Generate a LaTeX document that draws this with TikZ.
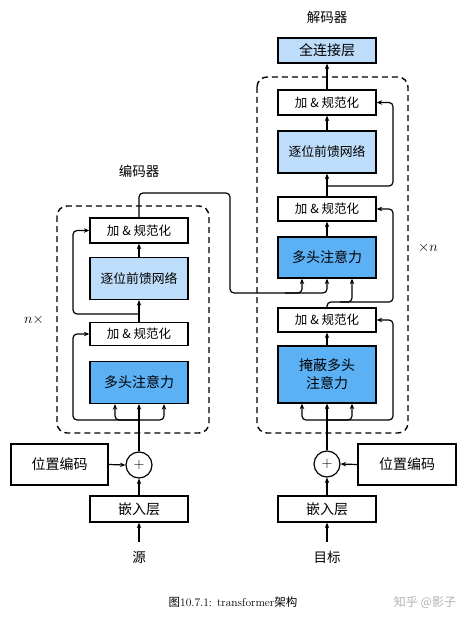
\documentclass[tikz,border=0pt]{standalone}
\usepackage{fontspec}
\newfontfamily\cjk{Noto Sans CJK SC}
\usetikzlibrary{arrows.meta,calc}
\definecolor{lblue}{RGB}{190,221,250}
\definecolor{dblue}{RGB}{92,177,245}
\tikzset{
  box/.style={draw=black, line width=1.3pt, minimum width=98pt, inner sep=0pt, align=center, font=\cjk\fontsize{14}{17}\selectfont},
  an/.style={box, fill=white, minimum height=25pt, font=\cjk\fontsize{12.5}{15}\selectfont},
  ffn/.style={box, fill=lblue, minimum height=42pt, font=\cjk\fontsize{12.8}{15}\selectfont},
  mha/.style={box, fill=dblue, minimum height=42pt},
  lbl/.style={font=\cjk\fontsize{13.5}{16}\selectfont, inner sep=0pt},
  arr/.style={line width=1.2pt, -{Stealth[length=5.5pt,width=4.5pt]}},
  rc/.style={rounded corners=4pt},
  dbox/.style={draw, line width=1.4pt, dash pattern=on 6pt off 4pt, rounded corners=10pt},
  plus/.style={circle, draw, line width=1.2pt, minimum size=26pt, inner sep=0pt, fill=white, font=\fontsize{14}{16}\selectfont}
}
\begin{document}
\begin{tikzpicture}[x=1pt,y=-1pt]
\useasboundingbox (0,0) rectangle (474,620);
% dashed frames
\draw[dbox] (57,206) rectangle (209,433);
\draw[dbox] (257,77) rectangle (408,433);
% titles
\node[lbl] (enct) at (139,171) {编码器};
\node[lbl] (dect) at (327,17) {解码器};
\node[font=\fontsize{15}{17}\selectfont] (nx) at (34,320) {$n\times$};
\node[font=\fontsize{15}{17}\selectfont] (xn) at (428,248) {$\times n$};
% encoder
\node[an] (ean2) at (139,230.5) {加 \& 规范化};
\node[ffn] (effn) at (139,278.5) {逐位前馈网络};
\node[an, minimum height=23pt] (ean1) at (139,334) {加 \& 规范化};
\node[mha] (emha) at (139,382.5) {多头注意力};
\node[plus] (ecirc) at (139,465) {$+$};
\node[box, minimum width=97pt, minimum height=41pt] (epos) at (59.5,464.5) {位置编码};
\node[box, minimum height=26pt] (eemb) at (139,509) {嵌入层};
\node[lbl] (src) at (139,557) {源};
% decoder
\node[ffn, minimum height=25pt, font=\cjk\fontsize{14}{17}\selectfont] (dfc) at (327,50.5) {全连接层};
\node[an] (dan3) at (327,102.5) {加 \& 规范化};
\node[ffn] (dffn) at (327,152) {逐位前馈网络};
\node[an, minimum height=24pt] (dan2) at (327,209) {加 \& 规范化};
\node[mha, minimum height=41pt] (dmha) at (327,257.5) {多头注意力};
\node[an, minimum height=24pt] (dan1) at (327,320) {加 \& 规范化};
\node[mha, minimum height=57pt] (dmmha) at (327,374.5) {掩蔽多头\\[1pt]注意力};
\node[plus] (dcirc) at (327,464) {$+$};
\node[box, minimum height=41pt] (dpos) at (407,464.5) {位置编码};
\node[box, minimum height=26pt] (demb) at (327,509) {嵌入层};
\node[lbl] (tgt) at (327,557) {目标};
% encoder connectors
\draw[arr] ([yshift=9pt]src.north) -- (eemb.south);
\draw[arr] (eemb.north) -- (ecirc.south);
\draw[arr] (epos.east) -- (ecirc.west);
\draw[arr] (ecirc.north) -- (emha.south);
\coordinate (eb1) at (139,420);
\draw[arr,rc] (eb1) -| ([xshift=-24pt]emha.south);
\draw[arr,rc] (eb1) -| ([xshift=25pt]emha.south);
\draw[arr,rc] (eb1) -| (73,334) -- (ean1.west);
\draw[arr] (ean1.north) -- (effn.south);
\coordinate (eb2) at (139,314);
\draw[arr,rc] (eb2) -| (73,230.5) -- (ean2.west);
\draw[arr] (effn.north) -- (ean2.south);
% encoder output to decoder
\draw[arr,rc] (ean2.north) |- (230,193) -- (230,293) -| ([xshift=-25pt]dmha.south);
\coordinate (eo) at (285,293);
\draw[arr,rc] (eo) -| (dmha.south);
% decoder connectors
\draw[arr] ([yshift=9pt]tgt.north) -- (demb.south);
\draw[arr] (demb.north) -- (dcirc.south);
\draw[arr] (dpos.west) -- (dcirc.east);
\draw[arr] (dcirc.north) -- (dmmha.south);
\coordinate (db1) at (327,420);
\draw[arr,rc] (db1) -| ([xshift=-25pt]dmmha.south);
\draw[arr,rc] (db1) -| ([xshift=25pt]dmmha.south);
\draw[arr,rc] (db1) -| (393,320) -- (dan1.east);
\draw[arr] (dmmha.north) -- (dan1.south);
\draw[arr,rc] (dan1.north) -- (327,302) -| ([xshift=25pt]dmha.south);
\coordinate (db2) at (340,302);
\draw[arr,rc] (db2) -| (393,209) -- (dan2.east);
\draw[arr] (dmha.north) -- (dan2.south);
\draw[arr] (dan2.north) -- (dffn.south);
\coordinate (db3) at (327,186);
\draw[arr,rc] (db3) -| (393,102.5) -- (dan3.east);
\draw[arr] (dffn.north) -- (dan3.south);
\draw[arr] (dan3.north) -- (dfc.south);
% caption
\node[font=\fontsize{11.5}{13}\selectfont] (cap) at (233,602) {{\cjk 图}10.7.1: transformer{\cjk 架构}};
\node[font=\cjk\fontsize{12}{14}\selectfont, text=black!30] (wm) at (425,602) {知乎 @影子};
\end{tikzpicture}
\end{document}
